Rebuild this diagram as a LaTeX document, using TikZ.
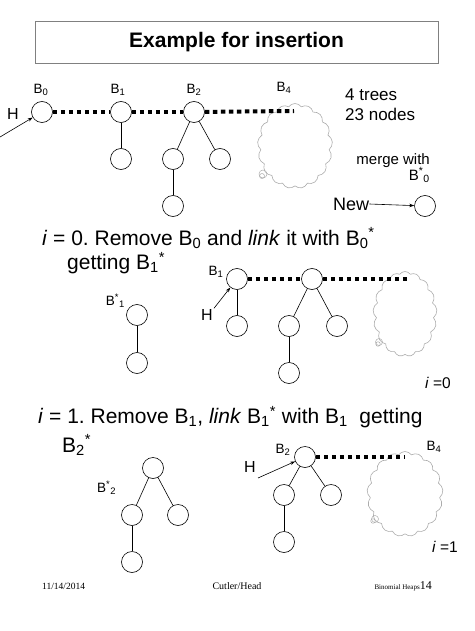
\documentclass[tikz,border=0pt]{standalone}
\usepackage{fontspec}
\setmainfont{Liberation Sans}
\newfontfamily\footfont{Liberation Serif}
\usetikzlibrary{shapes.symbols,arrows.meta}
\frenchspacing

\begin{document}
\begin{tikzpicture}[x=1pt,y=-1pt,
    vertex/.style={circle,draw,fill=white,minimum size=21pt,inner sep=0pt,line width=0.6pt},
    edge/.style={line width=0.6pt},
    rootlink/.style={line width=4pt,dash pattern=on 4.5pt off 3.5pt},
    heap/.style={cloud,draw=gray!65,cloud puffs=17,cloud puff arc=110,line width=0.6pt,inner sep=0pt},
    bubble/.style={circle,draw=gray!65,line width=0.5pt,inner sep=0pt},
    pointer/.style={-{Stealth[length=5pt,width=3.5pt]},line width=0.6pt},
    lbl/.style={font=\fontsize{13.5}{15}\selectfont,inner sep=1pt},
    big/.style={font=\fontsize{21}{24}\selectfont,inner sep=0pt},
    mid/.style={font=\fontsize{16}{19}\selectfont,inner sep=1pt}]
        \useasboundingbox (0,0) rectangle (474,631);

        % Title
        \node[draw=gray,line width=0.8pt,minimum width=403pt,minimum height=42pt,
              font=\bfseries\fontsize{21}{24}\selectfont] (title) at (236.5,42) {Example for insertion};

        % Draw nodes of the heap H
        \node[vertex] (n00) at (42,112) {};
        \node[vertex] (n10) at (121,112) {};
        \node[vertex] (n11) at (121,159) {};
        \node[vertex] (n20) at (194,112) {};
        \node[vertex] (n21) at (173,159) {};
        \node[vertex] (n22) at (220,159) {};
        \node[vertex] (n23) at (173,206) {};
        \node[heap,minimum width=75pt,minimum height=85pt,aspect=0.88] (c4) at (295,146) {};
        \node[bubble,minimum size=8pt] (s1) at (263,174) {};
        \node[bubble,minimum size=5pt] (s2) at (262,176) {};
        \coordinate (e4) at (294,111);

        % Labels
        \node[lbl] (l0) at (41,90) {B\textsubscript{0}};
        \node[lbl] (l1) at (118,90) {B\textsubscript{1}};
        \node[lbl] (l2) at (194,90) {B\textsubscript{2}};
        \node[lbl] (l4) at (284,88) {B\textsubscript{4}};
        \node[mid] (h0) at (13,114) {H};
        \coordinate (h0s) at (0,137);
        \node[anchor=west,align=left,inner sep=0pt,font=\fontsize{17}{20}\selectfont] (cnt) at (345,105) {4 trees\\23 nodes};
        \node[anchor=east,align=right,inner sep=0pt,font=\fontsize{15}{16}\selectfont] (mrg) at (430,168)
              {merge with\\B\textsuperscript{*}\textsubscript{0}};
        \node[anchor=west,inner sep=0pt,font=\fontsize{18}{20}\selectfont] (new) at (333,204) {New};
        \node[vertex] (nw) at (425,206) {};

        % Draw edges
        \draw[edge] (n10) -- (n11);
        \draw[edge] (n20) -- (n21);
        \draw[edge] (n20) -- (n22);
        \draw[edge] (n21) -- (n23);
        \draw[rootlink] (n00) -- (n10);
        \draw[rootlink] (n10) -- (n20);
        \draw[rootlink] (n20) -- (e4);
        \draw[pointer] (h0s) -- (n00);
        \draw[pointer] (new.east) -- (nw);

        % Step i = 0
        \node[big,anchor=west] (t0) at (42,238) {\textit{i} = 0. Remove B\textsubscript{0} and \textit{link} it with B\textsubscript{0}\textsuperscript{*}};
        \node[big,anchor=west] (t0b) at (67,263) {getting B\textsubscript{1}\textsuperscript{*}};
        \node[lbl,anchor=east] (ls1) at (126,301) {B\textsuperscript{*}\textsubscript{1}};
        \node[vertex] (a00) at (137,315) {};
        \node[vertex] (a01) at (137,363) {};
        \draw[edge] (a00) -- (a01);

        \node[vertex] (b10) at (237,279) {};
        \node[vertex] (b11) at (237,326) {};
        \node[vertex] (b20) at (312,279) {};
        \node[vertex] (b21) at (289,326) {};
        \node[vertex] (b22) at (337,326) {};
        \node[vertex] (b23) at (289,373) {};
        \node[heap,minimum width=64pt,minimum height=85pt,aspect=0.75] (c4b) at (405,314) {};
        \node[bubble,minimum size=7pt] (s3) at (379,342) {};
        \node[bubble,minimum size=4.5pt] (s4) at (378,344) {};
        \coordinate (e4b) at (410,279);
        \node[lbl] (lb1) at (216,272) {B\textsubscript{1}};
        \node[mid] (h1) at (207,315) {H};
        \draw[edge] (b10) -- (b11);
        \draw[edge] (b20) -- (b21);
        \draw[edge] (b20) -- (b22);
        \draw[edge] (b21) -- (b23);
        \draw[rootlink] (b10) -- (b20);
        \draw[rootlink] (b20) -- (e4b);
        \draw[pointer] (h1.north east) -- (b10);
        \node[anchor=east,inner sep=0pt,font=\fontsize{15.5}{17}\selectfont] (i0) at (451,383) {\textit{i} =0};

        % Step i = 1
        \node[big,anchor=west] (t1) at (38,417) {\textit{i} = 1. Remove B\textsubscript{1}, \textit{link} B\textsubscript{1}\textsuperscript{*} with B\textsubscript{1}\ \ getting};
        \node[big,anchor=west] (t1b) at (62,445) {B\textsubscript{2}\textsuperscript{*}};
        \node[lbl,anchor=west] (ls2) at (96,488) {B\textsuperscript{*}\textsubscript{2}};
        \node[vertex] (d20) at (153,468) {};
        \node[vertex] (d21) at (132,515) {};
        \node[vertex] (d22) at (178,515) {};
        \node[vertex] (d23) at (132,562) {};
        \draw[edge] (d20) -- (d21);
        \draw[edge] (d20) -- (d22);
        \draw[edge] (d21) -- (d23);

        \node[vertex] (f20) at (305,457) {};
        \node[vertex] (f21) at (284,495) {};
        \node[vertex] (f22) at (331,495) {};
        \node[vertex] (f23) at (284,542) {};
        \node[heap,minimum width=76pt,minimum height=85pt,aspect=0.9] (c4c) at (405,494) {};
        \node[bubble,minimum size=7pt] (s5) at (375,519) {};
        \node[bubble,minimum size=4.5pt] (s6) at (373,521) {};
        \coordinate (e4c) at (405,457);
        \node[lbl] (lf2) at (283,450) {B\textsubscript{2}};
        \node[lbl] (lf4) at (434,447) {B\textsubscript{4}};
        \node[mid] (h2) at (250,467) {H};
        \coordinate (h2s) at (258,478);
        \draw[edge] (f20) -- (f21);
        \draw[edge] (f20) -- (f22);
        \draw[edge] (f21) -- (f23);
        \draw[rootlink] (f20) -- (e4c);
        \draw[pointer] (h2s) -- (f20);
        \node[anchor=east,inner sep=0pt,font=\fontsize{15.5}{17}\selectfont] (i1) at (458,547) {\textit{i} =1};

        % Footer
        \node[anchor=west,inner sep=0pt,font=\footfont\fontsize{9.5}{11}\selectfont] (date) at (42,586) {11/14/2014};
        \node[inner sep=0pt,font=\footfont\fontsize{10}{12}\selectfont] (auth) at (237,586) {Cutler/Head};
        \node[anchor=east,inner sep=0pt,font=\footfont\fontsize{12}{13}\selectfont] (pg) at (432,586)
              {{\fontsize{7}{8}\selectfont Binomial Heaps}14};
\end{tikzpicture}
\end{document}
